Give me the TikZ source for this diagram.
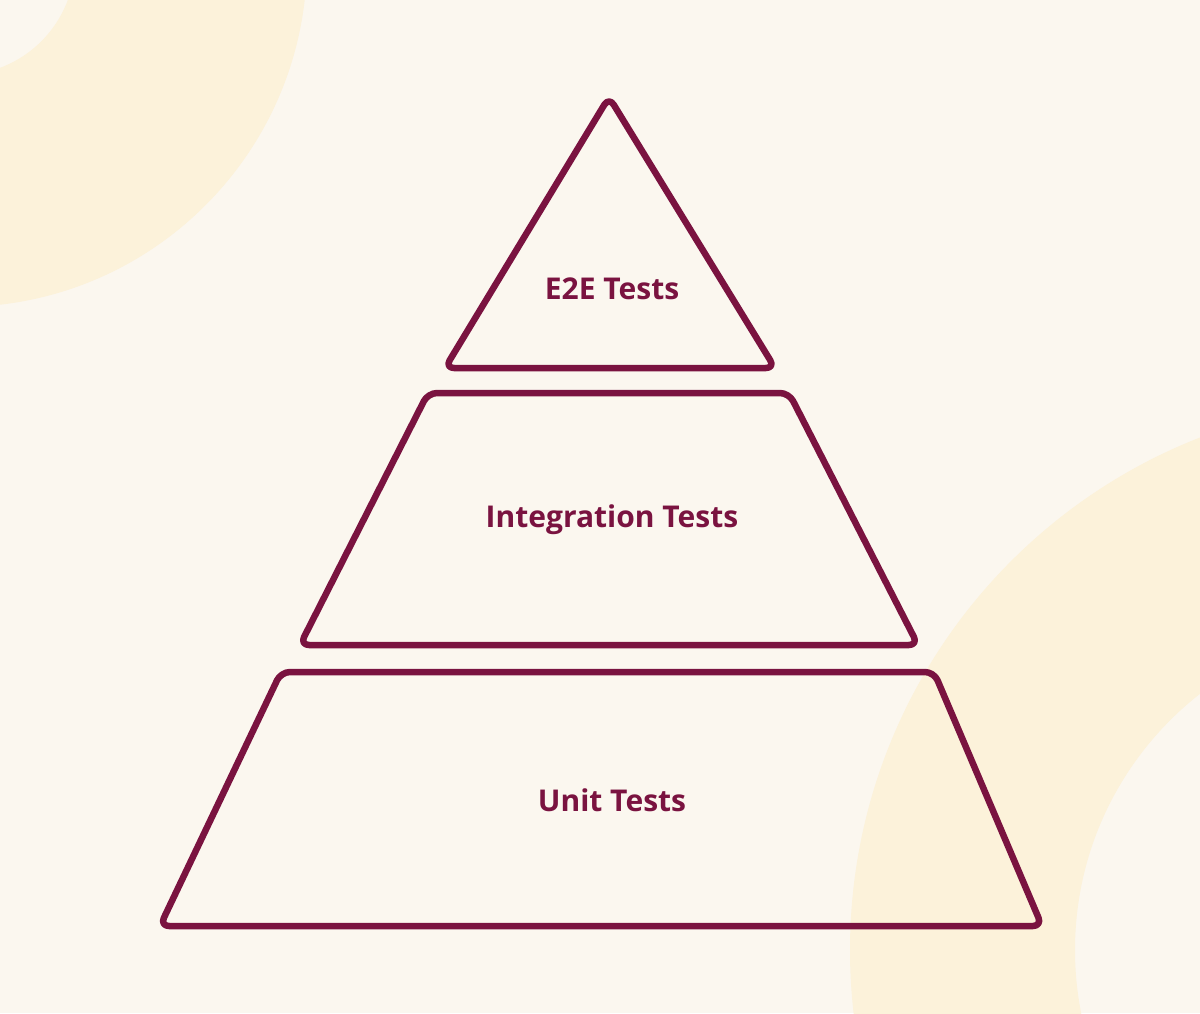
\documentclass[tikz,border=0pt]{standalone}
\usepackage{fontspec}
\setmainfont{Open Sans}
\definecolor{bg}{HTML}{FBF7EF}
\definecolor{ring}{HTML}{FCF2DA}
\definecolor{plum}{HTML}{7A1340}
\begin{document}
\begin{tikzpicture}[x=1pt,y=-1pt,
  tier/.style={draw=plum,line width=6.5pt,rounded corners=9pt,line join=round},
  lbl/.style={text=plum,font=\fontsize{30}{34}\selectfont\bfseries}]
\fill[bg] (0,0) rectangle (1200,1013);
\useasboundingbox (0,0) rectangle (1200,1013);
\begin{scope}
\clip (0,0) rectangle (1200,1013);
\fill[ring,even odd rule] (-40,-40) circle (347) (-40,-40) circle (115);
\fill[ring,even odd rule] (1400,950) circle (550) (1400,950) circle (325);
\end{scope}
\draw[tier] (609,97) -- (775,368) -- (445,368) -- cycle;
\draw[tier] (428,393) -- (789,393) -- (918,645) -- (300,645) -- cycle;
\draw[tier] (281,672) -- (934,672) -- (1042,926) -- (160,926) -- cycle;
\node[lbl] (e2e) at (612,289) {E2E Tests};
\node[lbl] (int) at (612,520) {Integration Tests};
\node[lbl] (unit) at (612,800) {Unit Tests};
\end{tikzpicture}
\end{document}
